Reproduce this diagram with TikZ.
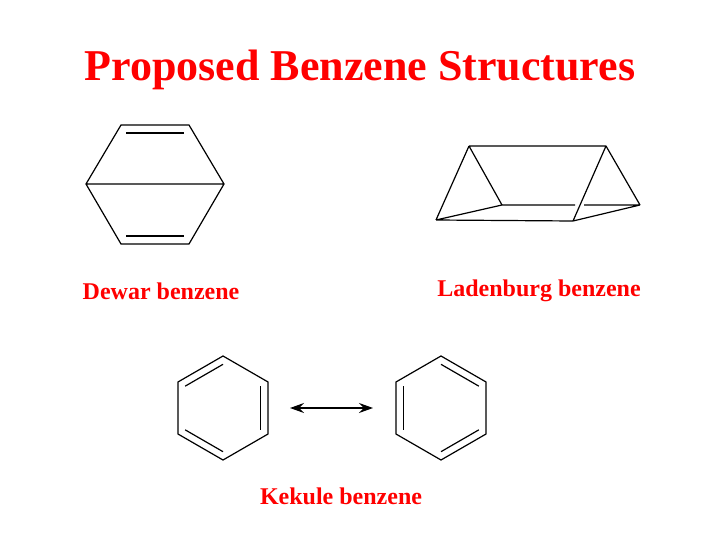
\documentclass[tikz,border=0pt]{standalone}
\usepackage{fontspec}
\setmainfont{Liberation Serif}
\usetikzlibrary{calc,arrows.meta}
\definecolor{tred}{RGB}{255,0,0}
\tikzset{bond/.style={line width=1.2pt,line join=miter},
 lbl/.style={text=tred,font=\bfseries\fontsize{24}{28}\selectfont,inner sep=0pt}}
\begin{document}
\begin{tikzpicture}[x=1pt,y=-1pt]
\useasboundingbox (0,0) rectangle (720,540);
\node[text=tred,font=\bfseries\fontsize{44}{52}\selectfont,inner sep=0pt] (title) at (360,70) {Proposed Benzene Structures};
% Dewar
\coordinate (d1) at (121,125); \coordinate (d2) at (189,125); \coordinate (d3) at (224,184);
\coordinate (d4) at (189,244); \coordinate (d5) at (121,244); \coordinate (d6) at (86,184);
\draw[bond] (d1)--(d2)--(d3)--(d4)--(d5)--(d6)--cycle (d6)--(d3);
\coordinate (di1) at (126,133); \coordinate (di2) at (184,133);
\coordinate (di3) at (126,236); \coordinate (di4) at (184,236);
\draw[bond] (di1)--(di2) (di3)--(di4);
\node[lbl] (dl) at (161,291) {Dewar benzene};
% Ladenburg
\coordinate (A) at (469,146); \coordinate (B) at (606,146); \coordinate (C) at (436,220);
\coordinate (D) at (502,205); \coordinate (E) at (573,221); \coordinate (F) at (640,205);
\coordinate (g1) at (575,205); \coordinate (g2) at (584,205);
\draw[bond] (A)--(B) (A)--(C) (A)--(D) (C)--(D) (C)--(E) (E)--(F) (B)--(E) (B)--(F) (D)--(g1) (g2)--(F);
\node[lbl] (ll) at (539,291) {Ladenburg benzene};
% Kekule
\foreach \n/\cx in {k/223,m/441}{
  \coordinate (\n c) at (\cx,408);
  \foreach \i/\a in {1/90,2/30,3/-30,4/-90,5/-150,6/150}
    \coordinate (\n\i) at ($(\n c)+(\a:-52)$);
  \draw[bond] (\n1)--(\n2)--(\n3)--(\n4)--(\n5)--(\n6)--cycle;
}
\foreach \p/\q in {k1/k2,k3/k4,k5/k6}
  \draw[bond] ($(kc)!0.84!(\p)$) -- ($(kc)!0.84!(\q)$);
\foreach \p/\q in {m4/m5,m2/m3,m6/m1}
  \draw[bond] ($(mc)!0.84!(\p)$) -- ($(mc)!0.84!(\q)$);
\coordinate (a1) at (290,408); \coordinate (a2) at (373,408);
\draw[line width=1.2pt,{Stealth[length=14pt,width=10pt,inset=5pt]}-{Stealth[length=14pt,width=10pt,inset=5pt]}] (a1)--(a2);
\node[lbl] (kl) at (341,496) {Kekule benzene};
\end{tikzpicture}
\end{document}
